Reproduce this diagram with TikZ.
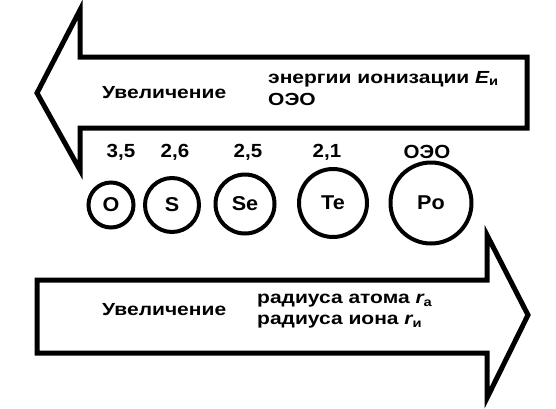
\documentclass[tikz,border=0pt]{standalone}
\usepackage{fontspec}
\setmainfont{Liberation Sans}
\newfontfamily\wfont[FakeStretch=1.2]{Liberation Sans}
\newfontfamily\nfont[FakeStretch=1.08]{Liberation Sans}
\begin{document}
\begin{tikzpicture}[x=1pt,y=-1pt,
  arrowshape/.style={draw=black,line width=5pt,line join=miter,fill=white},
  atom/.style={circle,draw=black,line width=4pt,inner sep=0pt,font=\nfont\bfseries\fontsize{20}{20}\selectfont},
  lbl/.style={font=\wfont\bfseries\fontsize{17.5}{17.5}\selectfont,inner sep=0pt,anchor=west},
  num/.style={font=\nfont\bfseries\fontsize{19}{19}\selectfont,inner sep=0pt}]
\useasboundingbox (0,0) rectangle (556,408);
% top arrow (pointing left)
\draw[arrowshape] (37,93) -- (80,10) -- (80,57) -- (527,57) -- (527,128) -- (80,128) -- (80,170) -- cycle;
% bottom arrow (pointing right)
\draw[arrowshape] (37,280) -- (487,280) -- (487,235) -- (528,315) -- (487,398) -- (487,353) -- (37,353) -- cycle;
% top texts
\node[lbl] (t1) at (102,93) {Увеличение};
\node[lbl] (t2) at (268,79) {энергии ионизации {\itshape E}\textsubscript{и}};
\node[lbl] (t3) at (268,99) {ОЭО};
% bottom texts
\node[lbl] (b1) at (102,310) {Увеличение};
\node[lbl] (b2) at (257,301) {радиуса атома {\itshape r}\textsubscript{а}};
\node[lbl] (b3) at (257,322) {радиуса иона {\itshape r}\textsubscript{и}};
% atoms
\node[atom,minimum size=45pt] (O) at (111,205) {O};
\node[atom,minimum size=54pt] (S) at (172,205) {S};
\node[atom,minimum size=59pt] (Se) at (245,204) {Se};
\node[atom,minimum size=68pt] (Te) at (333,203) {Te};
\node[atom,minimum size=81pt] (Po) at (431,203) {Po};
% values
\node[num] (nO) at (121,152) {3,5};
\node[num] (nS) at (175,152) {2,6};
\node[num] (nSe) at (248,152) {2,5};
\node[num] (nTe) at (327,152) {2,1};
\node[num] (nPo) at (427,152) {ОЭО};
\end{tikzpicture}
\end{document}
